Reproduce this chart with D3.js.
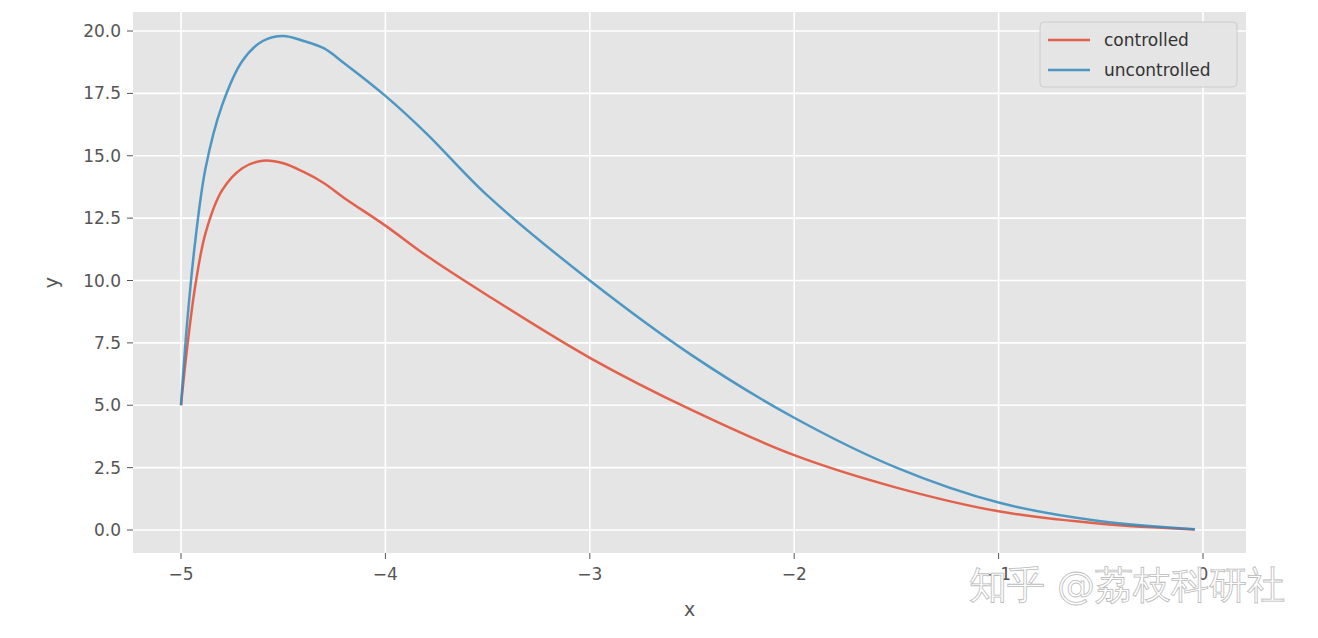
<!DOCTYPE html>
<html><head><meta charset="utf-8">
<script src="https://cdn.jsdelivr.net/npm/d3@7"></script>
<style>body{margin:0;background:#fff}text{font-family:"DejaVu Sans",sans-serif}</style>
</head><body><svg id="c" width="1318" height="638"></svg>
<script>
const xs = [-5,-4.97,-4.93,-4.88,-4.8,-4.7,-4.6,-4.5,-4.4,-4.3,-4.2,-4.0,-3.8,-3.5,-3.0,-2.5,-2.0,-1.5,-1.0,-0.5,-0.04];
const controlled = [5.0,7.3,9.8,11.9,13.6,14.5,14.8,14.7,14.35,13.9,13.3,12.2,11.0,9.4,6.9,4.8,3.0,1.7,0.75,0.25,0.02];
const uncontrolled = [5.0,8.3,11.6,14.5,17.0,18.8,19.6,19.8,19.6,19.3,18.7,17.4,15.9,13.4,10.0,7.0,4.5,2.5,1.1,0.35,0.03];
const xTicks = [-5,-4,-3,-2,-1,0];
const yTicks = [0,2.5,5,7.5,10,12.5,15,17.5,20];
const seriesNames = ["controlled","uncontrolled"];
const colors = ["#E24A33","#348ABD"];

const svg = d3.select("#c");
const L=133,R=1246,T=12,B=553;
const x = d3.scaleLinear().domain([-5,0]).range([181,1203]);
const y = d3.scaleLinear().domain([0,20]).range([530,31]);
svg.append("rect").attr("x",L).attr("y",T).attr("width",R-L).attr("height",B-T).attr("fill","#E5E5E5");
const g = svg.append("g");
xTicks.forEach(t=>g.append("line").attr("x1",x(t)).attr("x2",x(t)).attr("y1",T).attr("y2",B).attr("stroke","#fff").attr("stroke-width",1.6));
yTicks.forEach(t=>g.append("line").attr("x1",L).attr("x2",R).attr("y1",y(t)).attr("y2",y(t)).attr("stroke","#fff").attr("stroke-width",1.6));
const fmtX = d=> d<0 ? "\u2212"+Math.abs(d) : ""+d;
xTicks.forEach(t=>{
  g.append("line").attr("x1",x(t)).attr("x2",x(t)).attr("y1",B).attr("y2",B+6).attr("stroke","#555");
  g.append("text").attr("x",x(t)).attr("y",B+27).attr("text-anchor","middle").attr("font-size",17).attr("fill","#555").text(fmtX(t));
});
yTicks.forEach(t=>{
  g.append("line").attr("x1",L-6).attr("x2",L).attr("y1",y(t)).attr("y2",y(t)).attr("stroke","#555");
  g.append("text").attr("x",L-12).attr("y",y(t)+6).attr("text-anchor","end").attr("font-size",17).attr("fill","#555").text(t.toFixed(1));
});
svg.append("text").attr("x",(L+R)/2).attr("y",616).attr("text-anchor","middle").attr("font-size",19).attr("fill","#555").text("x");
svg.append("text").attr("transform",`translate(58,${(T+B)/2}) rotate(-90)`).attr("text-anchor","middle").attr("font-size",19).attr("fill","#555").text("y");

const line = d3.line().x((d,i)=>x(xs[i])).y(d=>y(d)).curve(d3.curveCatmullRom.alpha(0.5));
[controlled,uncontrolled].forEach((s,i)=>svg.append("path").attr("d",line(s)).attr("fill","none").attr("stroke",colors[i]).attr("stroke-opacity",0.85).attr("stroke-width",2.5));

const lg = svg.append("g");
lg.append("rect").attr("x",1040).attr("y",22).attr("width",197).attr("height",65).attr("rx",4).attr("fill","#E5E5E5").attr("stroke","#ccc").attr("opacity",0.95);
seriesNames.forEach((n,i)=>{
  const yy=40+i*30;
  lg.append("line").attr("x1",1048).attr("x2",1090).attr("y1",yy).attr("y2",yy).attr("stroke",colors[i]).attr("stroke-opacity",0.85).attr("stroke-width",2.5);
  lg.append("text").attr("x",1104).attr("y",yy+6).attr("font-size",17).attr("fill","#333").text(n);
});
svg.append("text").attr("x",1285).attr("y",598).attr("text-anchor","end").attr("font-family","Noto Sans CJK SC").attr("font-size",38).attr("fill","#fff").attr("stroke","#bbb").attr("stroke-width",0.8).text("知乎 @荔枝科研社");
</script></body></html>
